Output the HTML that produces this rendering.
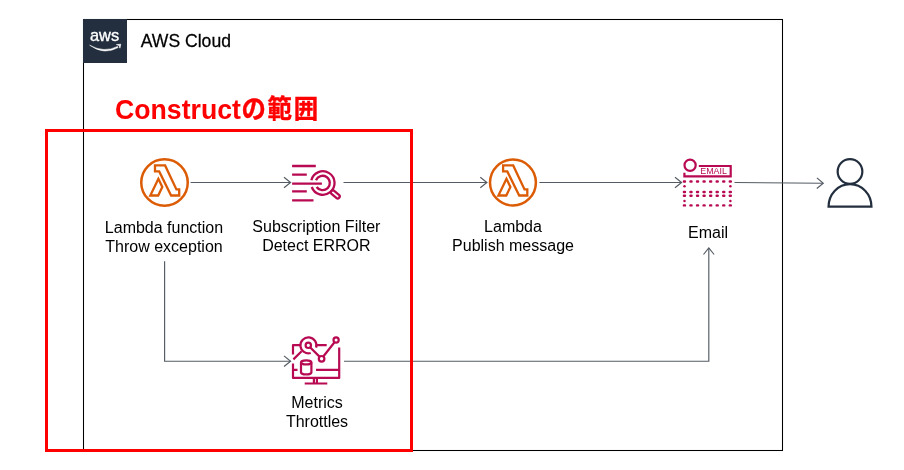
<!DOCTYPE html>
<html lang="ja">
<head>
<meta charset="utf-8">
<title>AWS Cloud - Construct</title>
<style>
html,body{margin:0;padding:0;background:#fff;}
body{width:904px;height:470px;position:relative;overflow:hidden;font-family:"Liberation Sans","Noto Sans CJK JP",sans-serif;}
svg{position:absolute;left:0;top:0;will-change:transform;}
.tx{position:absolute;left:0;top:0;width:904px;height:470px;will-change:transform;}
.t{position:absolute;font-size:16px;line-height:19px;color:#000;text-align:center;white-space:nowrap;transform:translateX(-50%);}
.aws{position:absolute;left:83px;top:19px;width:44px;height:44px;background:#232f3e;}
.awsx{position:absolute;left:90px;top:25.8px;font-size:16.4px;line-height:19px;color:#fff;letter-spacing:0;-webkit-text-stroke:0.35px #fff;}
.cloud{position:absolute;left:140.7px;top:30.6px;font-size:17.6px;line-height:20px;-webkit-text-stroke:0.25px #000;transform:scaleY(1.04);transform-origin:0 16px;color:#000;white-space:nowrap;}
.cj{font-size:25.8px;letter-spacing:1.9px;margin-left:0.5px;position:relative;top:-1px;-webkit-text-stroke:0.4px #ff0000;}
.red{position:absolute;left:115px;top:91.2px;font-size:28.2px;line-height:36px;transform:scaleX(0.946);transform-origin:0 0;font-weight:bold;color:#ff0000;white-space:nowrap;}
</style>
</head>
<body>
<div class="aws"></div>
<svg width="904" height="470" viewBox="0 0 904 470">
  <!-- cloud box -->
  <rect x="83.5" y="19.5" width="699" height="431" fill="none" stroke="#000" stroke-width="1.05"/>
  <rect x="83" y="19" width="44" height="44" fill="#232f3e"/>
  <!-- aws smile -->
  <path d="M89.6 45.2 Q104.3 53.2 117.6 46.4 L118.1 47.6 Q104.3 55.6 89.6 45.2 Z" fill="#fff" stroke="#fff" stroke-width="0.5" stroke-linejoin="round"/>
  <path d="M116.4 44.6 L120.8 44.2 L119.9 48.2 L119.2 45.6 Z" fill="#fff" stroke="#fff" stroke-width="0.6" stroke-linejoin="round"/>

  <!-- arrows -->
  <g fill="none" stroke="#545b64" stroke-width="1.15">
    <path d="M190.6 182.5 H290.5"/><path d="M284 177.2 L290.6 182.5 L284 187.8"/>
    <path d="M343.5 182.5 H486.8"/><path d="M480.3 177.2 L486.9 182.5 L480.3 187.8"/>
    <path d="M539.4 182.5 H681.5"/><path d="M675 177.2 L681.6 182.5 L675 187.8"/>
    <path d="M734.5 182.5 L823 183.3"/><path d="M816.9 177.9 L823.3 183.3 L816.8 188.5"/>
    <path d="M164.6 261.2 V361.2 H290.5"/><path d="M284 355.9 L290.6 361.2 L284 366.5"/>
    <path d="M344 361.2 H708.8 V248"/><path d="M703.5 254.5 L708.8 247.9 L714.1 254.5"/>
  </g>

  <!-- lambda 1 -->
  <g fill="none" stroke="#dc5c06" stroke-width="2.5" stroke-linejoin="miter">
    <circle cx="164.5" cy="182.5" r="23.25"/>
    <path stroke-width="2.3" d="M155 165.4 H165.1 L176.4 189.4 H179.2 V195.5 H171.1 L159.2 171.4 H155 Z"/>
    <path stroke-width="2.3" d="M158.4 178.8 L150.3 195.5 H158.2 L162.3 187 Z"/>
  </g>
  <!-- lambda 2 -->
  <g fill="none" stroke="#dc5c06" stroke-width="2.5" stroke-linejoin="miter">
    <circle cx="512.95" cy="182.5" r="22.95"/>
    <g transform="translate(348.1,0)">
      <path stroke-width="2.3" d="M155 165.4 H165.1 L176.4 189.4 H179.2 V195.5 H171.1 L159.2 171.4 H155 Z"/>
      <path stroke-width="2.3" d="M158.4 178.8 L150.3 195.5 H158.2 L162.3 187 Z"/>
    </g>
  </g>

  <!-- subscription filter -->
  <g fill="none" stroke="#b80a52" stroke-width="2.3">
    <path d="M292.1 166 H315.8 M292.1 174.7 H306.8 M292.1 183.6 H321.9 M292.1 191.4 H306.8 M292.1 200.3 H313.5"/>
    <path d="M311.39 180.20 A11.75 11.75 0 1 1 311.75 187.00"/>
    <path d="M315.97 180.20 A7.2 7.2 0 1 1 316.61 187.00"/>
    <rect x="0" y="-2.05" width="10.4" height="4.1" rx="2.05" transform="translate(331.3,191) rotate(40.5)"/>
  </g>

  <!-- email -->
  <g fill="none" stroke="#b80a52" stroke-width="2.2">
    <circle cx="690.1" cy="165.2" r="5.6"/>
    <path d="M698.8 166 H730.7 V176.4 H684.4 V172.8"/>
  </g>
  <g fill="none" stroke="#b80a52" stroke-width="2.4" stroke-dasharray="1.1 5.45" stroke-linecap="round">
    <path d="M683.9 181.5 H732"/>
    <path d="M683.9 192 H732"/>
    <path d="M683.9 195.8 H732"/>
    <path d="M683.9 205.4 H732"/>
  </g>
  <g fill="#b80a52" stroke="none">
    <circle cx="684.5" cy="186.3" r="1.25"/>
    <circle cx="684.5" cy="200.9" r="1.25"/>
    <circle cx="730.4" cy="186.3" r="1.25"/>
    <circle cx="730.4" cy="200.9" r="1.25"/>
  </g>
  <text x="700.3" y="173.9" font-family="'Liberation Sans',sans-serif" font-size="9.4" textLength="26.6" lengthAdjust="spacingAndGlyphs" fill="#b80a52" >EMAIL</text>

  <!-- user -->
  <g fill="none" stroke="#232f3e" stroke-width="2.2">
    <circle cx="850" cy="171.5" r="12.35"/>
    <path d="M828.55 206.6 A21.45 22.5 0 0 1 871.45 206.6 Z" stroke-linejoin="miter"/>
  </g>

  <!-- metrics -->
  <g fill="none" stroke="#b80a52" stroke-width="2.2" stroke-linejoin="round">
    <path d="M300 345.1 H293 V354.5 M293 363.5 V377.9 H339.2 V347.5 M316.6 345.1 H326.7 M316 369.9 H339.2 M293 369.9 H297.5"/>
    <path d="M313.9 377.9 V383.5 M316.9 377.9 V383.5 M304.7 383.5 H327.3"/>
    <circle cx="308.3" cy="345.3" r="2.7"/>
    <path d="M316.1 347.6 A8 8 0 1 0 310.7 353"/>
    <path d="M310.3 347.5 L319.5 356.6 M323.5 356.3 L334.5 342.2 M301.6 351.2 L293.4 359.4"/>
    <circle cx="321.6" cy="358.8" r="2.8"/>
    <circle cx="336.1" cy="340" r="2.6"/>
    <path d="M301 362.4 V372.4 A5.2 2 0 0 0 311.4 372.4 V362.4"/>
    <ellipse cx="306.2" cy="362.4" rx="5.2" ry="2"/>
  </g>

  <!-- red construct rect -->
  <rect x="46.5" y="130.5" width="365" height="320" fill="none" stroke="#ff0000" stroke-width="3"/>
</svg>
<div class="tx">
<div class="awsx">aws</div>
<div class="cloud">AWS Cloud</div>
<div class="red">Construct<span class="cj">の範囲</span></div>
<div class="t" style="left:164px;top:218px;">Lambda function<br>Throw exception</div>
<div class="t" style="left:316.4px;top:217px;">Subscription Filter<br>Detect ERROR</div>
<div class="t" style="left:513px;top:217px;">Lambda<br>Publish message</div>
<div class="t" style="left:708px;top:223px;">Email</div>
<div class="t" style="left:317px;top:393px;">Metrics<br>Throttles</div>
</div>
</body>
</html>
